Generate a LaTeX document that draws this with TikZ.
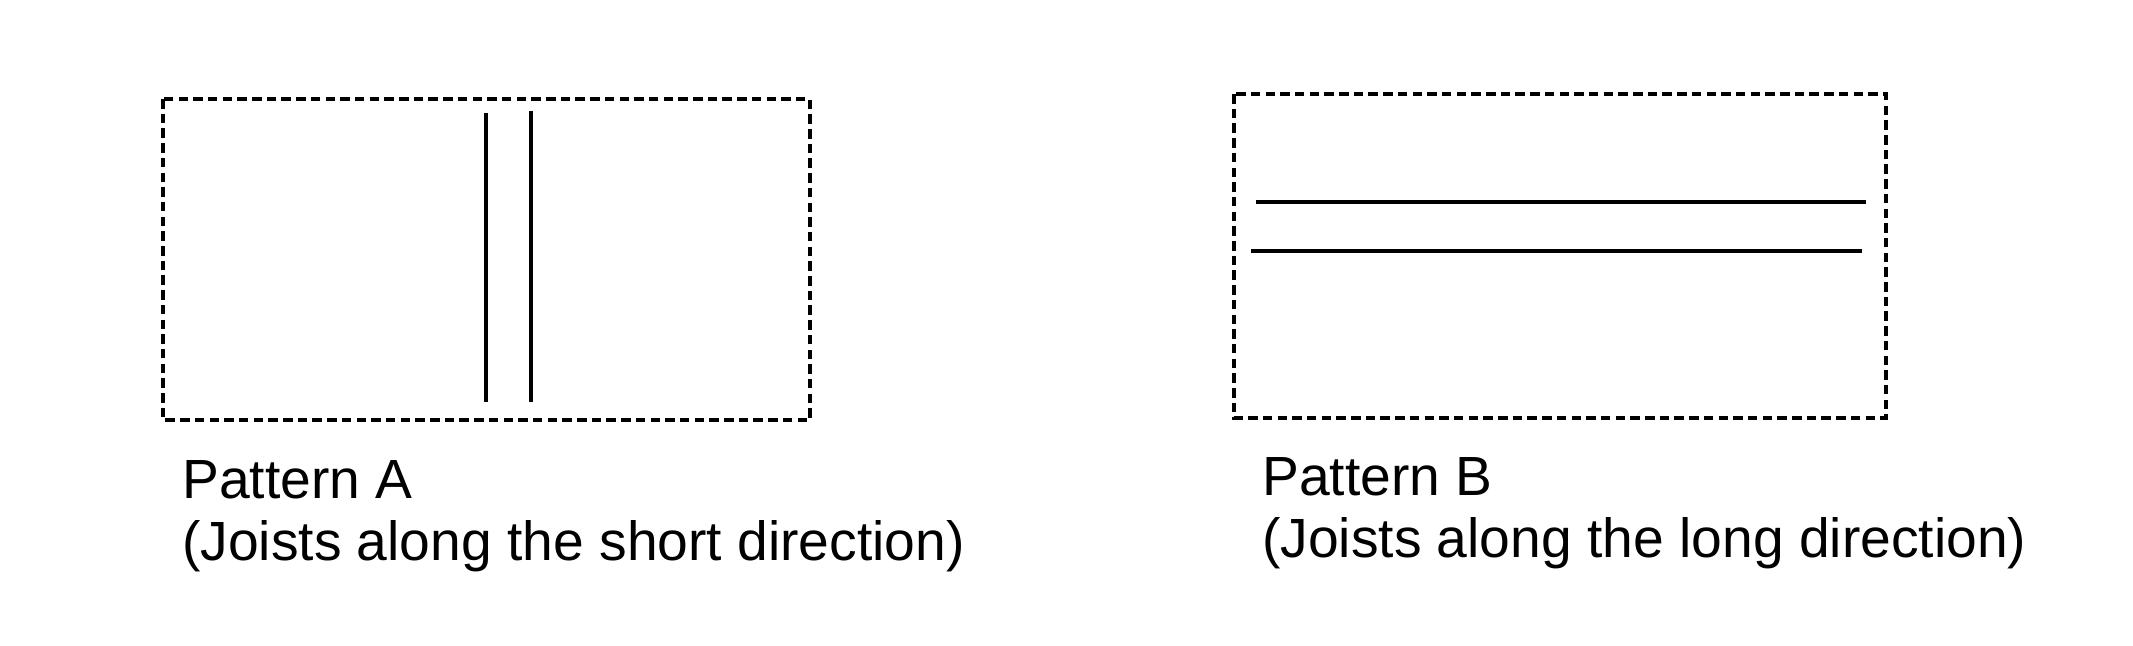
\documentclass[tikz,border=0pt]{standalone}
\usepackage{fontspec}
\setmainfont{Liberation Sans}
\begin{document}
\begin{tikzpicture}[x=1pt,y=-1pt,
  frame/.style={draw=black,line width=3.3pt,dash pattern=on 9.5pt off 5.2pt},
  joist/.style={draw=black,line width=4.4pt},
  caption/.style={anchor=base west,inner sep=0pt,font=\fontsize{55.2}{62}\selectfont}]
\useasboundingbox[fill=white] (0,0) rectangle (2133,645);
% Pattern A
\draw[frame] (163,99) rectangle (810,420);
\coordinate (a1t) at (486,113); \coordinate (a1b) at (486,402);
\coordinate (a2t) at (531,111); \coordinate (a2b) at (531,402);
\draw[joist] (a1t) -- (a1b);
\draw[joist] (a2t) -- (a2b);
\node[caption] (ta1) at (182,498) {Pattern A};
\node[caption] (ta2) at (182,560) {(Joists along the short direction)};
% Pattern B
\draw[frame] (1234,94) rectangle (1886,418);
\coordinate (b1l) at (1256,202); \coordinate (b1r) at (1866,202);
\coordinate (b2l) at (1251,251); \coordinate (b2r) at (1862,251);
\draw[joist] (b1l) -- (b1r);
\draw[joist] (b2l) -- (b2r);
\node[caption] (tb1) at (1262,495) {Pattern B};
\node[caption] (tb2) at (1262,557) {(Joists along the long direction)};
\end{tikzpicture}
\end{document}
